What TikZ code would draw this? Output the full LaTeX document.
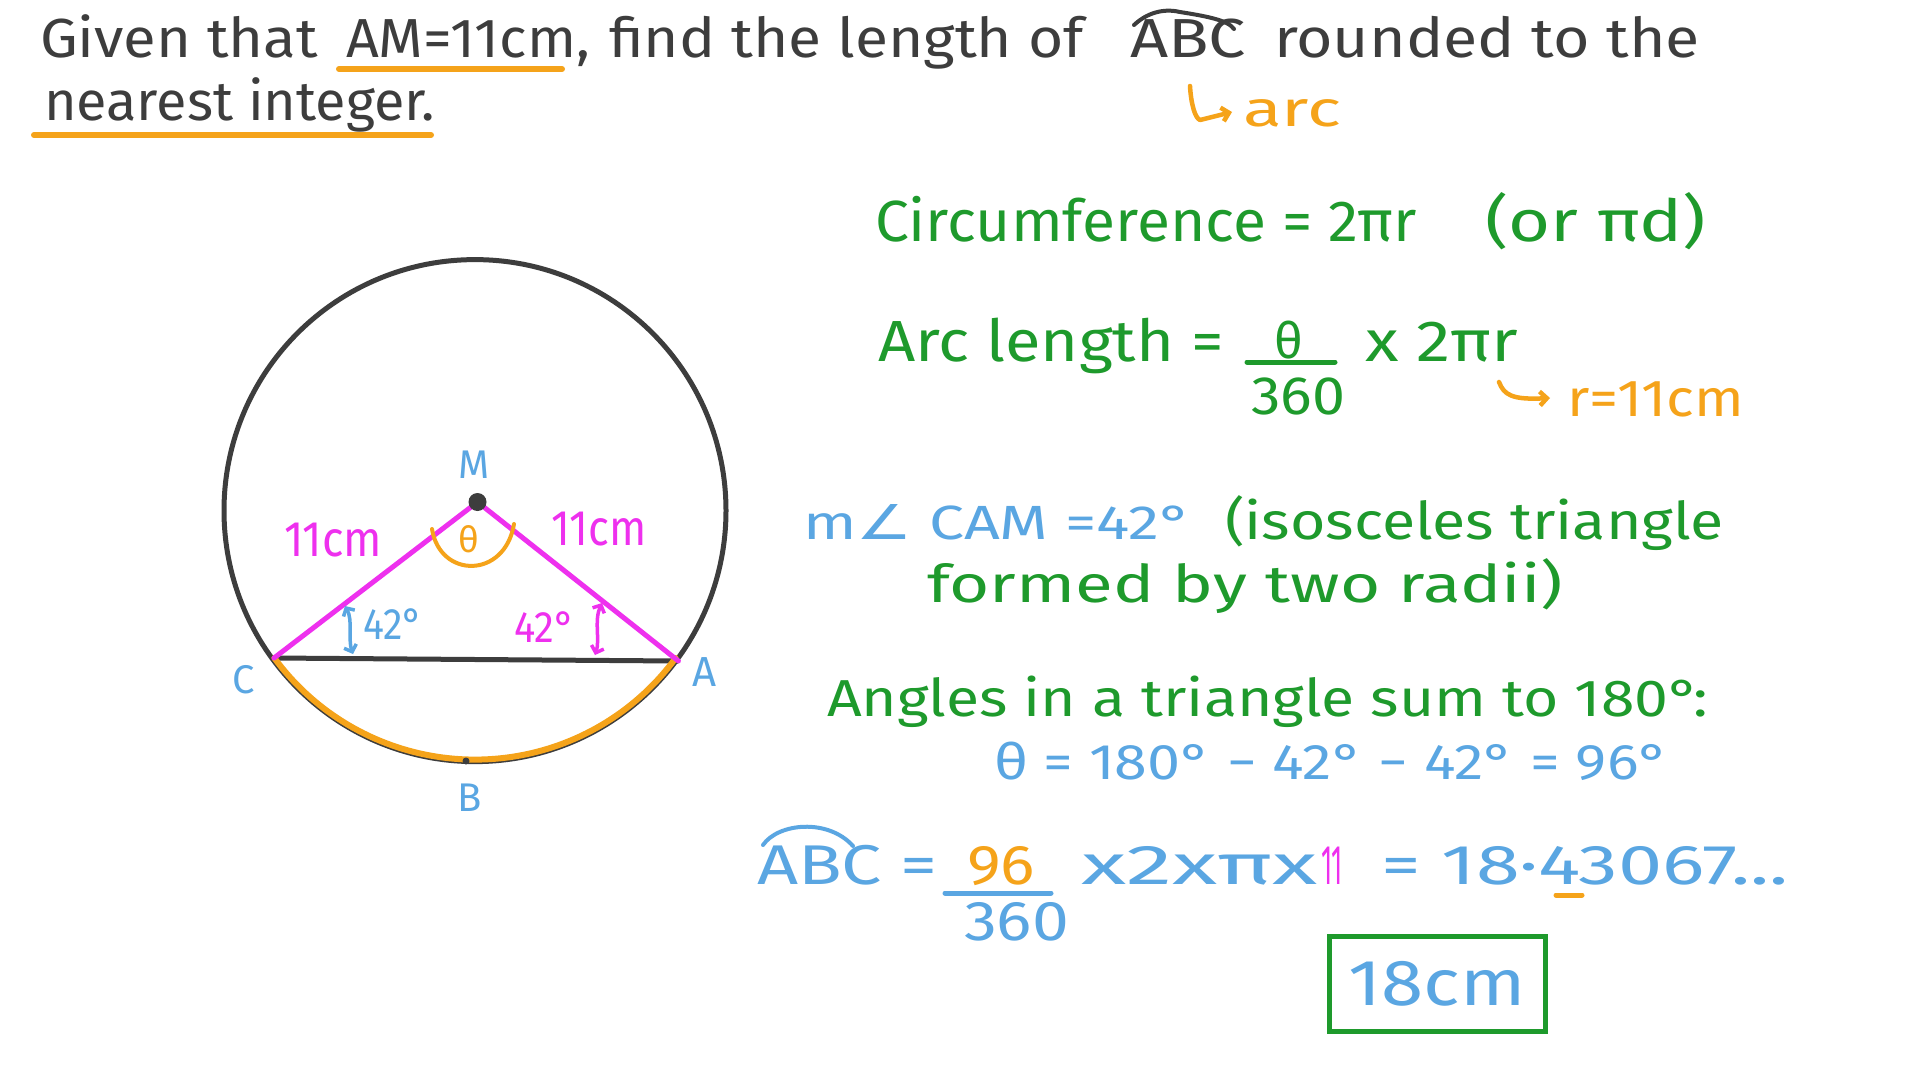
\documentclass[tikz,border=0pt]{standalone}
\usepackage{fontspec}
\usepackage{graphicx}
\setmainfont{Fira Sans}
\newfontfamily\symfont{DejaVu Sans}
\usetikzlibrary{arrows.meta}
\definecolor{ink}{HTML}{3D3D3D}
\definecolor{org}{HTML}{F5A31A}
\definecolor{grn}{HTML}{1E9A2C}
\definecolor{blu}{HTML}{5AA6E2}
\definecolor{mag}{HTML}{EE30EE}
\newcommand{\tx}[3]{\resizebox{#1pt}{\height}{\fontsize{#2}{#2}\selectfont #3}}
\tikzset{
  txt/.style={inner sep=0pt, outer sep=0pt, anchor=base west},
  lbl/.style={inner sep=0pt, outer sep=0pt},
  pen/.style={line width=5pt, line cap=round, line join=round},
  barb/.style={line width=3.5pt, line cap=round, {Straight Barb[length=6pt,width=13pt]}-{Straight Barb[length=6pt,width=13pt]}},
  hook/.style={line width=4.5pt, line cap=round, line join=round, -{Straight Barb[length=7pt,width=14pt]}}
}
\begin{document}
\begin{tikzpicture}[x=1pt,y=-1pt]
\useasboundingbox (0,0) rectangle (1920,1080);
\fill[white] (0,0) rectangle (1920,1080);

% ---- question text ----
\node[txt,text=ink] (t1) at (40,57) {\tx{278}{55}{Given that}};
\node[txt,text=ink] (t2) at (346,57) {\tx{244}{55}{AM=11cm,}};
\node[txt,text=ink] (t3) at (609,57) {\tx{475}{55}{find the length of}};
\node[txt,text=ink] (t4) at (1130,57) {\tx{116}{55}{ABC}};
\node[txt,text=ink] (t5) at (1274,57) {\tx{426}{55}{rounded to the}};
\node[txt,text=ink] (t6) at (44,120) {\tx{391}{55}{nearest integer.}};
\draw[ink,pen,line width=4pt] (1134,25) .. controls (1150,10) and (1168,9) .. (1180,12) .. controls (1205,16) and (1228,20) .. (1234,29);
\draw[org,pen,line width=6pt] (339,69) -- (562,69);
\draw[org,pen,line width=6pt] (34,135) -- (431,135);

\node[txt,text=org] (arcw) at (1243,126) {\tx{98}{50}{arc}};
\coordinate (h1a) at (1190,86);
\coordinate (h1b) at (1232,112);
\draw[org,hook] (h1a) .. controls (1191,104) and (1195,118) .. (1200,120) -- (h1b);

% ---- formulas ----
\node[txt,text=grn] (circ) at (875,241) {\tx{542}{58}{Circumference = 2πr}};
\node[txt,text=grn] (ord) at (1485,241) {\tx{221}{58}{(or πd)}};
\node[txt,text=grn] (arcl) at (878,361) {\tx{346}{58}{Arc length =}};
\node[lbl,text=grn] (thn) at (1289,340) {\fontsize{50}{50}\selectfont θ};
\draw[grn,pen] (1247,362) -- (1335,362);
\node[lbl,text=grn] (d360) at (1298,396) {\tx{94}{54}{360}};
\node[txt,text=grn] (x2pr) at (1365,361) {\tx{153}{58}{x 2πr}};
\node[txt,text=org] (r11) at (1567,416) {\tx{177}{52}{r=11cm}};
\coordinate (h2a) at (1499,382);
\coordinate (h2b) at (1550,398);
\draw[org,hook] (h2a) .. controls (1504,395) and (1512,400) .. (h2b);

\node[txt,text=blu] (cam) at (803,539) {\tx{389}{48}{m{\symfont∠} CAM =42°}};
\node[txt,text=grn] (iso) at (1225,539) {\tx{499}{52}{(isosceles triangle}};
\node[txt,text=grn] (rad) at (927,602) {\tx{636}{52}{formed by two radii)}};
\node[txt,text=grn] (ang) at (827,716) {\tx{881}{52}{Angles in a triangle sum to 180°:}};
\node[txt,text=blu] (th96) at (994,779) {\tx{675}{50}{θ = 180° − 42° − 42° = 96°}};

\node[txt,text=blu] (abc) at (757,884) {\tx{125}{56}{ABC}};
\draw[blu,pen,line width=4pt] (763,845) .. controls (778,823) and (828,818) .. (853,846);
\node[txt,text=blu] (eq1) at (900,884) {\tx{37}{56}{=}};
\node[txt,text=org] (n96) at (967,884) {\tx{68}{56}{96}};
\draw[blu,pen] (945,893) -- (1051,893);
\node[txt,text=blu] (n360) at (964,940) {\tx{105}{56}{360}};
\node[txt,text=blu] (mult) at (1081,884) {\tx{237}{56}{x2xπx}};
\node[txt,text=mag] (n11) at (1321,884) {\tx{22}{56}{11}};
\node[txt,text=blu] (res) at (1381,884) {\tx{407}{56}{= 18·43067...}};
\draw[org,pen] (1556,895) -- (1582,895);
\node[draw=grn, line width=5pt, text=blu, minimum width=216pt, minimum height=95pt, inner sep=0pt] (box) at (1437,984) {\tx{177}{65}{18cm}};

% ---- diagram ----
\coordinate (O) at (475,510.6);
\coordinate (C) at (274,658);
\coordinate (A) at (678.4,661);
\coordinate (M) at (477.5,502);
\draw[ink,line width=5pt] (O) circle[radius=251pt];
\draw[ink,line width=5pt] (C) -- (A);
\draw[org,line width=6pt,line cap=round] plot[domain=36.3:143.7,samples=80] ({475+249*cos(\x)},{510.6+249*sin(\x)});
\fill[ink] (466,761) circle[radius=3.5pt];
\draw[mag,pen] (C) -- (M) -- (A);
\fill[ink] (M) circle[radius=9pt];
\draw[org,pen,line width=4pt] (432,529) .. controls (440,579) and (505,579) .. (514,524);
\node[lbl,text=org] (thd) at (469,539) {\fontsize{36}{36}\selectfont θ};

\node[lbl,text=blu] (lM) at (474,465) {\fontsize{40}{40}\selectfont M};
\node[lbl,text=blu] (lC) at (244,680) {\fontsize{40}{40}\selectfont C};
\node[lbl,text=blu] (lA) at (705,672) {\fontsize{42}{42}\selectfont A};
\node[lbl,text=blu] (lB) at (470,798) {\fontsize{40}{40}\selectfont B};
\node[lbl,text=mag] (r1) at (333,540) {\tx{98}{50}{11cm}};
\node[lbl,text=mag] (r2) at (599,529) {\tx{95}{50}{11cm}};
\node[lbl,text=blu] (g1) at (393,624) {\tx{60}{44}{42°}};
\node[lbl,text=mag] (g2) at (545,627) {\tx{61}{44}{42°}};
\coordinate (a1t) at (345,606);
\coordinate (a1b) at (353,654);
\coordinate (a2t) at (602,603);
\coordinate (a2b) at (595,655);
\draw[blu,barb] (a1t) .. controls (353,620) and (348,640) .. (a1b);
\draw[mag,barb] (a2t) .. controls (594,620) and (600,640) .. (a2b);
\end{tikzpicture}
\end{document}
